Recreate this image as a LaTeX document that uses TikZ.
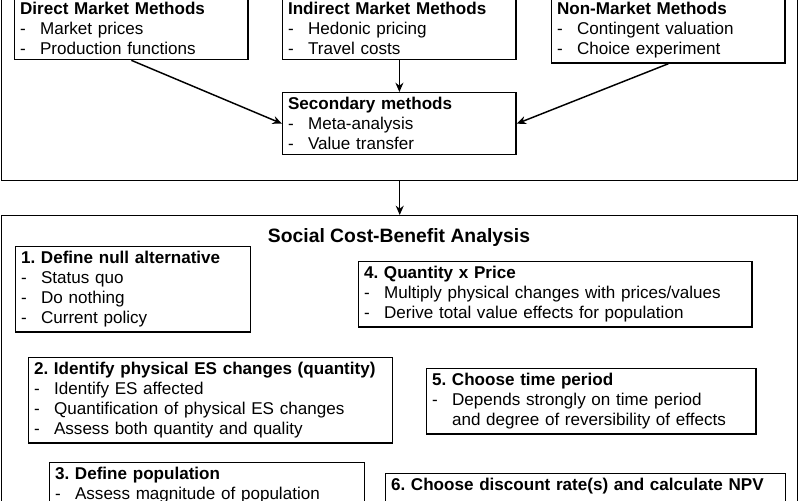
\documentclass[tikz,border=0pt]{standalone}
\usepackage{fontspec}
\setmainfont{Liberation Sans}
\usetikzlibrary{arrows.meta}

\newcommand{\itm}[1]{\makebox[15pt][l]{-}#1}

\begin{document}
\frenchspacing
\begin{tikzpicture}[x=0.75pt,y=-0.75pt,>={Stealth[length=7pt,width=6pt]},
  box/.style={draw,line width=1.1pt,anchor=north west,align=left,
    inner xsep=4pt,inner ysep=3.5pt,font=\fontsize{12.8}{15}\selectfont},
  frame/.style={draw,line width=1.1pt,anchor=north west,inner sep=0pt},
  arr/.style={->,line width=1.1pt}]
  \useasboundingbox (0,0) rectangle (800,500);
  \clip (0,0) rectangle (800,500);

  % valuation methods
  \node[frame,minimum width=597pt,minimum height=150pt] (top) at (1,-20) {};
  \node[box,text width=167pt] (dmm) at (14,-3)
    {\textbf{Direct Market Methods}\\ \itm{Market prices}\\ \itm{Production functions}};
  \node[box,text width=167pt] (imm) at (282,-3)
    {\textbf{Indirect Market Methods}\\ \itm{Hedonic pricing}\\ \itm{Travel costs}};
  \node[box,text width=167pt] (nmm) at (551,-3)
    {\textbf{Non-Market Methods}\\ \itm{Contingent valuation}\\ \itm{Choice experiment}};
  \node[box,text width=167pt] (sec) at (282,92)
    {\textbf{Secondary methods}\\ \itm{Meta-analysis}\\ \itm{Value transfer}};

  \draw[arr] (dmm.south) -- (sec.west);
  \draw[arr] (imm.south) -- (sec.north);
  \draw[arr] (nmm.south) -- (sec.east);

  % cost-benefit analysis
  \node[frame,minimum width=597pt,minimum height=250pt] (cba) at (1,215) {};
  \draw[arr] (top.south) -- (cba.north);
  \node[font=\fontsize{14.5}{17}\selectfont\bfseries] (title) at (399,237)
    {Social Cost-Benefit Analysis};

  \node[box,text width=168pt] (s1) at (15,246)
    {\textbf{1. Define null alternative}\\ \itm{Status quo}\\ \itm{Do nothing}\\ \itm{Current policy}};
  \node[box,text width=287pt] (s4) at (358,261)
    {\textbf{4. Quantity x Price}\\ \itm{Multiply physical changes with prices/values}\\
     \itm{Derive total value effects for population}};
  \node[box,text width=265pt] (s2) at (28,357)
    {\textbf{2. Identify physical ES changes (quantity)}\\ \itm{Identify ES affected}\\
     \itm{Quantification of physical ES changes}\\ \itm{Assess both quantity and quality}};
  \node[box,text width=239pt] (s5) at (426,368)
    {\textbf{5. Choose time period}\\ \itm{Depends strongly on time period}\\
     \hspace*{15pt}and degree of reversibility of effects};
  \node[box,text width=228pt] (s3) at (49,462)
    {\textbf{3. Define population}\\ \itm{Assess magnitude of population}};
  \node[box,text width=292pt] (s6) at (385,473)
    {\textbf{6. Choose discount rate(s) and calculate NPV}\\ \itm{}};
\end{tikzpicture}
\end{document}
